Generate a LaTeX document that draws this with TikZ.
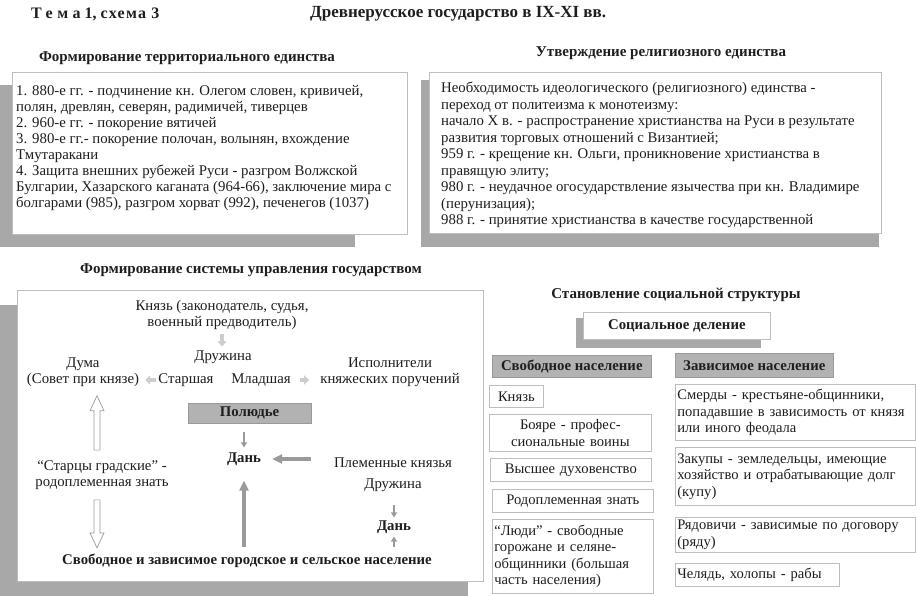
\documentclass[tikz,border=0pt]{standalone}
\usepackage{fontspec}
\setmainfont{Liberation Serif}
\usepackage{tikz}
\usetikzlibrary{arrows.meta,positioning,calc}

\definecolor{shadowgray}{HTML}{A8A8A8}
\definecolor{framegray}{HTML}{BDBDBD}
\definecolor{headgray}{HTML}{B2B2B2}
\definecolor{arrowgray}{HTML}{9A9A9A}
\definecolor{palegray}{HTML}{CDCDCD}
\definecolor{inkgray}{HTML}{1E1E1E}

\begin{document}
\begin{tikzpicture}[
    x=1pt, y=-1pt,
    font=\fontsize{14.8}{16.3}\selectfont,
    text=inkgray,
    plain/.style={inner sep=1pt, align=center},
    heading/.style={inner sep=1pt, font=\fontsize{15}{17}\selectfont\bfseries},
    strong/.style={inner sep=1pt, font=\fontsize{14.8}{16.3}\selectfont\bfseries},
    shadow/.style={fill=shadowgray},
    panel/.style={
        draw=framegray,
        line width=0.7pt,
        fill=white,
        inner sep=0pt,
        anchor=north west
    },
    bodytext/.style={inner sep=0pt, anchor=north west, align=left},
    cell/.style={
        draw=framegray,
        line width=0.7pt,
        fill=white,
        inner xsep=2pt,
        inner ysep=1pt,
        anchor=north west,
        align=left,
        font=\fontsize{14.6}{16.5}\selectfont
    },
    graycell/.style={
        draw=arrowgray,
        line width=0.6pt,
        fill=headgray,
        inner sep=1pt,
        anchor=north west,
        font=\fontsize{14.8}{16.3}\selectfont\bfseries
    },
    palearrow/.style={line width=3.5pt, draw=palegray, -{Triangle[width=9pt,length=5pt]}},
    smallarrow/.style={line width=2.5pt, draw=arrowgray, -{Triangle[width=6pt,length=5pt]}},
    grayarrow/.style={line width=3.5pt, draw=arrowgray, -{Triangle[width=9pt,length=10pt]}},
    % outlined block arrow: half shaft, half head, head length
    blockarrow/.style n args={3}{
        to path={
            ($(\tikztostart)!#1!90:(\tikztotarget)$)
            -- ($(\tikztotarget)!#3!(\tikztostart)!#1!-90:(\tikztostart)$)
            -- ($(\tikztotarget)!#3!(\tikztostart)!#2!-90:(\tikztostart)$)
            -- (\tikztotarget)
            -- ($(\tikztotarget)!#3!(\tikztostart)!#2!90:(\tikztostart)$)
            -- ($(\tikztotarget)!#3!(\tikztostart)!#1!90:(\tikztostart)$)
            -- ($(\tikztostart)!#1!-90:(\tikztotarget)$)
            -- cycle
        }
    },
    hollowarrow/.style={blockarrow={3pt}{7pt}{15pt}, draw=arrowgray, fill=white, line width=0.7pt}
]

% Stable crop.
\path[use as bounding box] (0,0) rectangle (916,596);

% --------------------------------------------------
% Titles
% --------------------------------------------------
\node[heading, anchor=west, font=\fontsize{16}{18}\selectfont\bfseries] (theme) at (30,14)
    {{\addfontfeature{LetterSpace=28}Тема} 1, {\addfontfeature{LetterSpace=8}схема 3}};
\node[heading, anchor=west, font=\fontsize{17}{19}\selectfont\bfseries] (title) at (309,14)
    {Древнерусское государство в IX-XI вв.};

\node[heading] (terrhead) at (187,58) {Формирование территориального единства};
\node[heading] (relhead) at (661,53) {Утверждение религиозного единства};
\node[heading] (govhead) at (251,270) {Формирование системы управления государством};
\node[heading] (sochead) at (676,295) {Становление социальной структуры};

% --------------------------------------------------
% Shadows under the panels
% --------------------------------------------------
\fill[shadow] (0,85) rectangle (355,247);
\fill[shadow] (421,80) rectangle (879,247);
\fill[shadow] (0,305) rectangle (468,596);
\fill[shadow] (576,318) rectangle (761,348);

% --------------------------------------------------
% Territorial and religious unity
% --------------------------------------------------
\node[panel, minimum width=395, minimum height=162] (terrpanel) at (12,72) {};
\node[bodytext, font=\fontsize{14.8}{16}\selectfont] (terrtext) at (16,85)
    {1. 880-е гг. - подчинение кн. Олегом словен, кривичей,\\
     полян, древлян, северян, радимичей, тиверцев\\
     2. 960-е гг. - покорение вятичей\\
     3. 980-е гг.- покорение полочан, волынян, вхождение\\
     Тмутаракани\\
     4. Защита внешних рубежей Руси - разгром Волжской\\
     Булгарии, Хазарского каганата (964-66), заключение мира с\\
     болгарами (985), разгром хорват (992), печенегов (1037)};

\node[panel, minimum width=452, minimum height=161] (relpanel) at (429,72) {};
\node[bodytext, font=\fontsize{14.8}{16.5}\selectfont] (reltext) at (441,82)
    {Необходимость идеологического (религиозного) единства -\\
     переход от политеизма к монотеизму:\\
     начало X в. - распространение христианства на Руси в результате\\
     развития торговых отношений с Византией;\\
     959 г. - крещение кн. Ольги, проникновение христианства в\\
     правящую элиту;\\
     980 г. - неудачное огосударствление язычества при кн. Владимире\\
     (перунизация);\\
     988 г. - принятие христианства в качестве государственной};

% --------------------------------------------------
% Government system
% --------------------------------------------------
\node[panel, minimum width=466, minimum height=291] (govpanel) at (17,290) {};

\node[plain] (knyaz) at (222,315) {Князь (законодатель, судья,\\военный предводитель)};
\node[plain] (druzhina) at (223,357) {Дружина};
\node[plain] (duma) at (83,372) {Дума\\(Совет при князе)};
\node[plain] (starshaya) at (186,380) {Старшая};
\node[plain] (mladshaya) at (261,380) {Младшая};
\node[plain] (ispoln) at (390,372) {Исполнители\\княжеских поручений};
\node[graycell, anchor=center, minimum width=123, minimum height=20] (polyudye) at (249.5,413) {Полюдье};
\node[strong] (dan) at (244,459) {Дань};
\node[plain] (plemknyazya) at (393,463) {Племенные князья};
\node[plain] (druzhina2) at (393,485) {Дружина};
\node[strong] (dan2) at (394,527) {Дань};
\node[plain] (startsy) at (102,475) {“Старцы градские” -\\родоплеменная знать};
\node[strong] (naselenie) at (247,561) {Свободное и зависимое городское и сельское население};

% Ends of the two outlined arrows.
\coordinate (dumatip)  at ($(startsy.north |- duma.south)+(-5,8)$);
\coordinate (dumabase) at ($(startsy.north)+(-5,-9)$);
\coordinate (naseltip)  at ($(startsy.south |- naselenie.north)+(-5,-5)$);
\coordinate (naselbase) at ($(startsy.south)+(-5,9)$);

\draw[palearrow, shorten <=3pt, shorten >=3pt] (knyaz.south) -- (knyaz.south |- druzhina.north);
\draw[palearrow, shorten <=1pt, shorten >=5pt] (starshaya.west) -- (duma.east |- starshaya.west);
\draw[palearrow, shorten <=8pt, shorten >=10pt] (mladshaya.east) -- (ispoln.west |- mladshaya.east);

\draw[smallarrow, shorten <=9pt, shorten >=4pt] (dan.north |- polyudye.south) -- (dan.north);
\draw[grayarrow, shorten <=22pt, shorten >=10pt] (plemknyazya.west |- dan.east) -- (dan.east);
\draw[grayarrow, shorten <=6pt, shorten >=14pt] (naselenie.north -| dan.south) -- (dan.south);

\draw[hollowarrow] (dumabase) to (dumatip);
\draw[hollowarrow] (naselbase) to (naseltip);

\draw[smallarrow, shorten <=12pt, shorten >=2pt] (druzhina2.south -| dan2.north) -- (dan2.north);
\draw[smallarrow, shorten <=6pt, shorten >=2pt] (naselenie.north -| dan2.south) -- (dan2.south);

% --------------------------------------------------
% Social structure
% --------------------------------------------------
\node[panel, minimum width=187, minimum height=27, font=\fontsize{14.8}{16.3}\selectfont\bfseries] (socdiv) at (583,312) {Социальное деление};

\node[graycell, minimum width=159, minimum height=22] (svobodnoe) at (492,355) {Свободное население};
\node[graycell, minimum width=158, minimum height=24] (zavisimoe) at (675,353) {Зависимое население};

\node[cell, minimum width=54, minimum height=22] (knyazcell) at (489,385) {Князь};
\node[cell, text width=158, minimum height=37, align=center] (boyare) at (489,414) {Бояре - профес-\\сиональные воины};
\node[cell, text width=157, minimum height=23, align=center] (duhovenstvo) at (490,458) {Высшее духовенство};
\node[cell, text width=157, minimum height=23, align=center] (rodznat) at (492,489) {Родоплеменная знать};
\node[cell, text width=157, minimum height=74] (lyudi) at (492,519)
    {“Люди” - свободные\\горожане и селяне-\\общинники (большая\\часть населения)};

\node[cell, text width=236, minimum height=56] (smerdy) at (675,384)
    {Смерды - крестьяне-общинники,\\попадавшие в зависимость от князя\\или иного феодала};
\node[cell, text width=236, minimum height=58] (zakupy) at (675,447)
    {Закупы - земледельцы, имеющие\\хозяйство и отрабатывающие долг\\(купу)};
\node[cell, text width=236, minimum height=35] (ryadovichi) at (675,517)
    {Рядовичи - зависимые по договору\\(ряду)};
\node[cell, text width=160, minimum height=23] (chelyad) at (675,563)
    {Челядь, холопы - рабы};

\end{tikzpicture}
\end{document}
